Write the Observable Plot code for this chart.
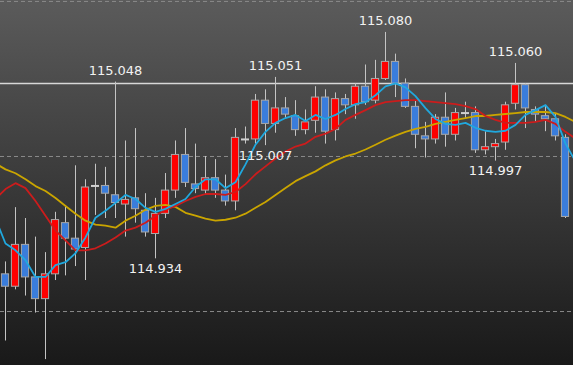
<!DOCTYPE html>
<html><head><meta charset="utf-8">
<script src="https://cdn.jsdelivr.net/npm/d3@7"></script>
<script src="https://cdn.jsdelivr.net/npm/@observablehq/plot@0.6"></script>
<style>html,body{margin:0;padding:0;background:#1a1a1a;overflow:hidden}</style>
</head><body><div id="chart"></div>
<script>
// OHLC per candle (index 0..56)
const opens  = [114.924,114.916,114.943,114.922,114.908,114.924,114.957,114.947,114.941,114.981,
                114.981,114.975,114.969,114.973,114.965,114.950,114.963,114.978,115.001,114.982,
                114.978,114.986,114.978,114.971,115.011,115.011,115.036,115.021,115.031,115.026,
                115.017,115.023,115.038,115.017,115.037,115.033,115.045,115.036,115.050,115.061,
                115.047,115.032,115.013,115.011,115.025,115.014,115.028,115.028,115.004,115.006,
                115.009,115.034,115.046,115.030,115.026,115.024,115.012];
const highs  = [114.932,114.967,114.960,114.948,114.938,114.964,114.968,114.994,114.985,114.995,
                114.993,115.048,115.010,115.018,114.976,114.973,114.989,115.010,115.018,115.008,
                115.000,114.998,114.988,115.018,115.019,115.040,115.043,115.051,115.038,115.036,
                115.030,115.045,115.043,115.041,115.040,115.047,115.059,115.062,115.080,115.066,
                115.050,115.036,115.022,115.027,115.041,115.031,115.035,115.032,115.016,115.011,
                115.035,115.060,115.047,115.032,115.033,115.027,115.014];
const lows   = [114.881,114.914,114.910,114.899,114.869,114.920,114.923,114.929,114.920,114.962,
                114.960,114.960,114.948,114.957,114.948,114.934,114.960,114.973,114.980,114.976,
                114.975,114.973,114.968,114.965,115.008,115.008,115.007,115.015,115.024,115.013,
                115.014,115.015,115.008,115.010,115.027,115.024,115.033,115.034,115.049,115.038,
                115.031,115.005,114.999,115.008,115.006,115.010,115.024,115.002,115.001,114.997,
                115.004,115.030,115.018,115.022,115.016,115.010,114.960];
const closes = [114.916,114.943,114.922,114.908,114.924,114.959,114.947,114.940,114.980,114.981,
                114.976,114.970,114.972,114.966,114.951,114.963,114.978,115.001,114.983,114.979,
                114.986,114.978,114.971,115.012,115.011,115.036,115.021,115.031,115.027,115.017,
                115.022,115.038,115.016,115.037,115.033,115.045,115.035,115.050,115.061,115.047,
                115.032,115.014,115.011,115.025,115.014,115.028,115.028,115.004,115.006,115.008,
                115.033,115.046,115.031,115.027,115.024,115.013,114.961];

// Moving averages, index -1..57
const maFast = [114.9599,114.9439,114.9395,114.9331,114.9223,114.9223,114.9299,114.9318,114.9376,114.9478,
                114.9605,114.9650,114.9701,114.9752,114.9726,114.9669,114.9643,114.9662,114.9694,114.9726,
                114.9803,114.9853,114.9853,114.9796,114.9834,114.9949,115.0076,115.0159,115.0217,115.0248,
                115.0268,115.0229,115.0268,115.0242,115.0268,115.0306,115.0338,115.0350,115.0395,115.0452,
                115.0471,115.0446,115.0389,115.0312,115.0242,115.0210,115.0204,115.0217,115.0185,115.0166,
                115.0159,115.0166,115.0204,115.0268,115.0299,115.0331,115.0255,115.0083,114.9968];
const maMid  = [114.9726,114.9790,114.9828,114.9796,114.9713,114.9618,114.9522,114.9459,114.9395,114.9395,
                114.9408,114.9439,114.9478,114.9522,114.9541,114.9573,114.9618,114.9656,114.9681,114.9713,
                114.9739,114.9758,114.9758,114.9752,114.9771,114.9822,114.9885,114.9936,114.9987,115.0032,
                115.0064,115.0083,115.0127,115.0147,115.0178,115.0236,115.0268,115.0299,115.0331,115.0350,
                115.0357,115.0363,115.0363,115.0357,115.0350,115.0344,115.0338,115.0325,115.0306,115.0261,
                115.0236,115.0217,115.0217,115.0217,115.0223,115.0236,115.0210,115.0159,115.0115];
const maSlow = [114.9955,114.9917,114.9892,114.9853,114.9809,114.9777,114.9732,114.9681,114.9631,114.9586,
                114.9561,114.9554,114.9541,114.9586,114.9618,114.9656,114.9681,114.9688,114.9675,114.9637,
                114.9618,114.9599,114.9586,114.9592,114.9605,114.9631,114.9669,114.9707,114.9752,114.9796,
                114.9841,114.9873,114.9904,114.9943,114.9975,115.0000,115.0019,115.0045,115.0076,115.0108,
                115.0134,115.0159,115.0178,115.0191,115.0210,115.0223,115.0236,115.0248,115.0261,115.0261,
                115.0268,115.0274,115.0280,115.0287,115.0287,115.0287,115.0280,115.0255,115.0223];

const gridLevels = [114.9, 115.0, 115.1];
const priceLine = 115.047;

// swing labels
const labelIndex = [11, 27, 38, 51, 15, 26, 49];
const labelPrice = [115.048, 115.051, 115.080, 115.060, 114.934, 115.007, 114.997];
const labelKind  = ["high","high","high","high","low","low","low"];

const candles = opens.map((o, i) => ({i, open: o, high: highs[i], low: lows[i], close: closes[i]}));
const bodies = candles.filter(d => d.open !== d.close);
const dojis = candles.filter(d => d.open === d.close);
const maRows = maFast.map((v, k) => ({i: k - 1, fast: v, mid: maMid[k], slow: maSlow[k]}));
const labels = labelIndex.map((i, k) => ({i, price: labelPrice[k], kind: labelKind[k]}));
const fmt = d3.format(".3f");

const chart = Plot.plot({
  width: 573, height: 365,
  margin: 0,
  x: {type: "linear", domain: [-0.5, 56.8], axis: null},
  y: {type: "linear", domain: [114.8652, 115.1006], axis: null},
  style: {background: "linear-gradient(#5b5b5b, #191919)", overflow: "hidden"},
  marks: [
    Plot.ruleY(gridLevels, {stroke: "#8a8a8a", strokeWidth: 1, strokeDasharray: "4,3"}),
    Plot.ruleY([priceLine], {stroke: "#d8d8d8", strokeWidth: 1.5}),
    Plot.ruleX(candles, {x: "i", y1: "low", y2: "high", stroke: "#c4c4c4", strokeWidth: 1}),
    Plot.rect(bodies, {
      x1: d => d.i - 0.36, x2: d => d.i + 0.36,
      y1: "open", y2: "close",
      fill: d => d.close > d.open ? "#ff0000" : "#3a7ddc",
      stroke: "#a8a8a8", strokeWidth: 1
    }),
    Plot.ruleY(dojis, {y: "open", x1: d => d.i - 0.4, x2: d => d.i + 0.4, stroke: "#d0d0d0", strokeWidth: 2}),
    Plot.lineY(maRows, {x: "i", y: "slow", stroke: "#caa500", strokeWidth: 1.8}),
    Plot.lineY(maRows, {x: "i", y: "mid", stroke: "#cc1c1c", strokeWidth: 1.8}),
    Plot.lineY(maRows, {x: "i", y: "fast", stroke: "#20a8de", strokeWidth: 1.8}),
    Plot.text(labels.filter(d => d.kind === "high"), {
      x: "i", y: "price", text: d => fmt(d.price), lineAnchor: "bottom", dy: -7,
      fill: "#f2f2f2", fontSize: 13, fontFamily: "DejaVu Sans"
    }),
    Plot.text(labels.filter(d => d.kind === "low"), {
      x: "i", y: "price", text: d => fmt(d.price), lineAnchor: "top", dy: 5,
      fill: "#f2f2f2", fontSize: 13, fontFamily: "DejaVu Sans"
    })
  ]
});
document.getElementById("chart").appendChild(chart);
</script>
</body></html>
